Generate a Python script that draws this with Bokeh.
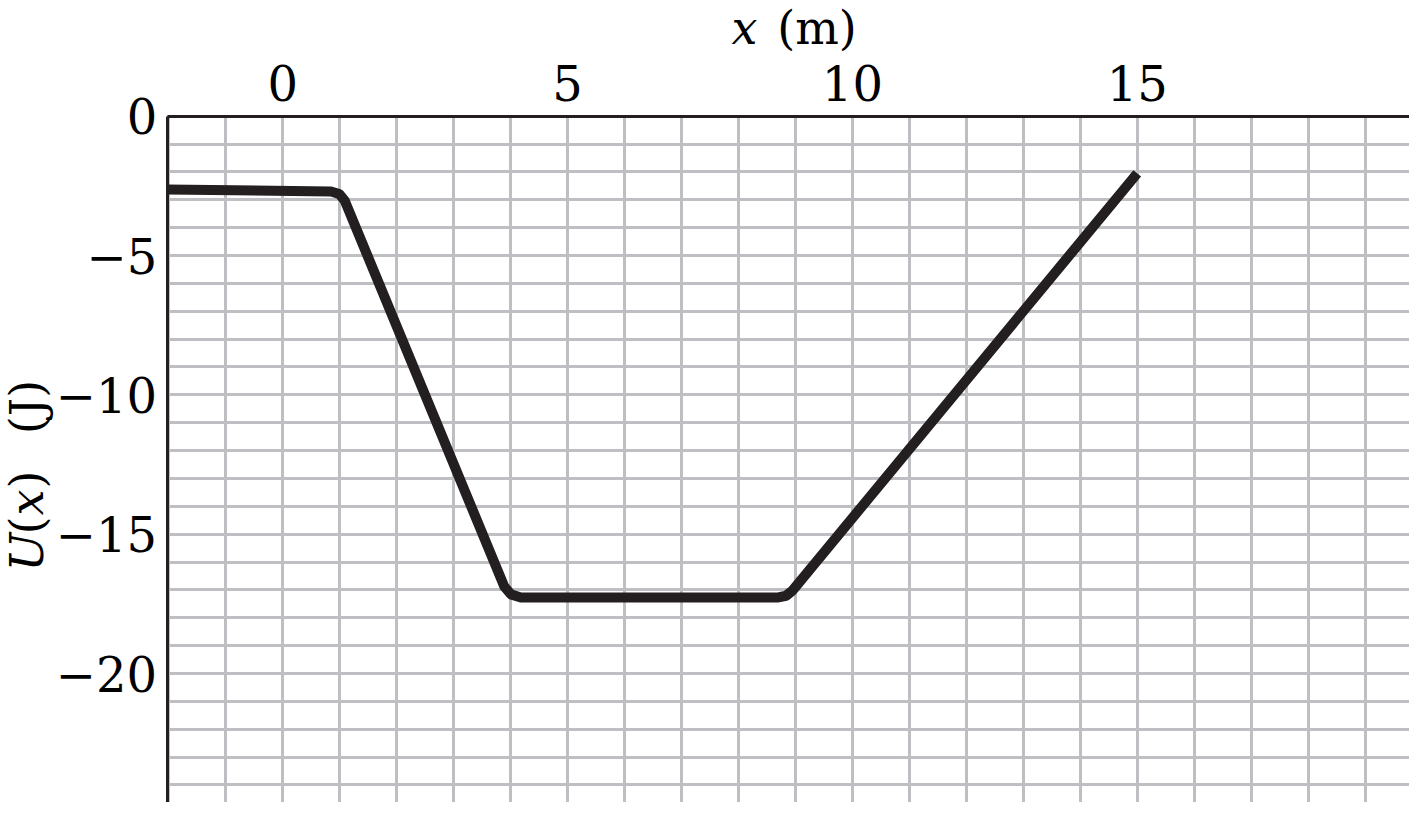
import math
from bokeh.plotting import figure
from bokeh.models import FixedTicker, SingleIntervalTicker, Range1d, BoxAnnotation, Label
from bokeh.embed import file_html
from bokeh.resources import INLINE

# ---- data ----
x_pts = [-2.03, 0.846, 0.991, 1.087, 3.889, 4.005, 4.179, 8.701, 8.836, 8.945, 15.0]
u_pts = [-2.63, -2.70, -2.79, -3.03, -16.88, -17.16, -17.27, -17.27, -17.21, -17.03, -2.05]

x_ticks = [0, 5, 10, 15]
y_ticks = [0, -5, -10, -15, -20]
y_tick_labels = {0: "0", -5: "\u22125", -10: "\u221210", -15: "\u221215", -20: "\u221220"}

x_title_parts = ["x", "(m)"]                 # italic symbol, upright unit
y_title_parts = ["U", "(", "x", ")", "(J)"]  # italic / upright pieces

# plotted region (data units)
X_LEFT, X_RIGHT = -2.03, 19.78
Y_BOTTOM, Y_TOP = -24.63, 0.0

# ---- layout / style ----
W, H = 1409, 802
PX0, SX = 282.3, 56.96   # pixel of x = 0, pixels per metre
PY0, SY = 115.7, 27.865  # pixel of U = 0, pixels per joule


def dx(px):
    return (px - PX0) / SX


def dy(py):
    return -(py - PY0) / SY


FONT = "DejaVu Serif"
INK = "#231f20"
GRID = "#bebec3"
TICK_FS = "48px"
TITLE_PX = 46
TITLE_FS = f"{TITLE_PX}px"
BASE_SHIFT = 0.37 * TITLE_PX   # baseline correction (px) for the title labels

p = figure(width=W, height=H, output_backend="svg", toolbar_location=None,
           x_axis_location="above",
           x_range=Range1d(dx(0), dx(W)), y_range=Range1d(dy(H), dy(0)),
           min_border=0, min_border_left=0, min_border_right=0,
           min_border_top=0, min_border_bottom=0)
p.outline_line_color = None
p.background_fill_color = "white"
p.border_fill_color = "white"

p.xgrid.ticker = SingleIntervalTicker(interval=1)
p.ygrid.ticker = SingleIntervalTicker(interval=1)
p.xgrid.bounds = (X_LEFT, X_RIGHT)
p.ygrid.bounds = (Y_BOTTOM, Y_TOP)
for g in (p.xgrid, p.ygrid):
    g.grid_line_color = GRID
    g.grid_line_width = 3

cross_ok = True
try:
    p.xgrid[0].cross_bounds = (Y_BOTTOM, Y_TOP)
    p.ygrid[0].cross_bounds = (X_LEFT, X_RIGHT)
except Exception:
    cross_ok = False

if not cross_ok:
    # white margins outside the plotted region (above the grid, below everything else)
    p.add_layout(BoxAnnotation(left=dx(-200), right=X_LEFT, bottom=dy(H + 200), top=dy(-200),
                               fill_color="white", fill_alpha=1.0,
                               line_color=None, level="underlay"))
    p.add_layout(BoxAnnotation(left=dx(-200), right=dx(W + 200), bottom=Y_TOP, top=dy(-200),
                               fill_color="white", fill_alpha=1.0,
                               line_color=None, level="underlay"))

xa = p.xaxis[0]
ya = p.yaxis[0]
xa.fixed_location = Y_TOP
ya.fixed_location = X_LEFT
xa.bounds = (X_LEFT, X_RIGHT)
ya.bounds = (Y_BOTTOM, Y_TOP)
xa.ticker = FixedTicker(ticks=x_ticks)
ya.ticker = FixedTicker(ticks=y_ticks)
ya.major_label_overrides = y_tick_labels
for ax in (xa, ya):
    ax.axis_line_color = INK
    ax.axis_line_width = 3
    ax.major_tick_line_color = None
    ax.minor_tick_line_color = None
    ax.major_tick_in = 0
    ax.major_tick_out = 0
    ax.minor_tick_in = 0
    ax.minor_tick_out = 0
    ax.major_label_text_font = FONT
    ax.major_label_text_font_size = TICK_FS
    ax.major_label_text_color = "black"
    ax.axis_label = None
xa.major_label_standoff = 15
ya.major_label_standoff = 10

p.line(x_pts, u_pts, line_color=INK, line_width=10, line_join="round", line_cap="butt")


# ---- axis titles (italic symbols, upright units) ----
def put(text, px, py, italic=False, angle=0.0):
    p.add_layout(Label(x=dx(px), y=dy(py), text=text, angle=angle,
                       text_font=FONT, text_font_size=TITLE_FS,
                       text_font_style="italic" if italic else "normal",
                       text_align="center", text_baseline="alphabetic",
                       text_color="black"))


title_base_y = 45 - BASE_SHIFT
put(x_title_parts[0], 744, title_base_y, italic=True)
put(x_title_parts[1], 816.5, title_base_y)

rot = math.pi / 2
base_x = 44 - BASE_SHIFT
put(y_title_parts[0], base_x, 551.5, italic=True, angle=rot)
put(y_title_parts[1], base_x, 525.0, angle=rot)
put(y_title_parts[2], base_x, 502.0, italic=True, angle=rot)
put(y_title_parts[3], base_x, 479.0, angle=rot)
put(y_title_parts[4], base_x, 406.5, angle=rot)

open("out.html", "w").write(file_html(p, INLINE))
